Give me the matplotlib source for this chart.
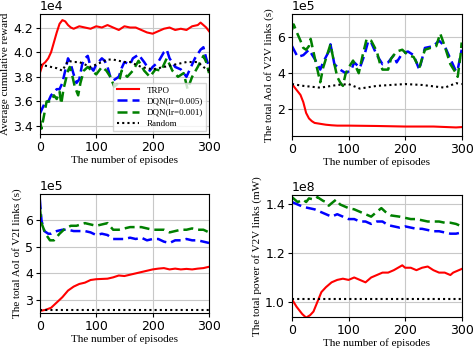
import matplotlib
matplotlib.use('Agg')
import matplotlib.pyplot as plt

# ---- panel 1: average cumulative reward (x1e4) ----
r_trpo_x = [0, 5, 10, 15, 20, 25, 30, 35, 40, 45, 50, 55, 60, 70, 80, 90, 100, 110, 120, 130, 140, 150,
            160, 170, 180, 190, 200, 210, 220, 230, 240, 250, 260, 270, 280, 285, 290, 295, 300]
r_trpo = [3.83, 3.9, 3.92, 3.95, 4.0, 4.08, 4.16, 4.23, 4.26, 4.25, 4.22, 4.2, 4.19, 4.21, 4.2, 4.19, 4.21,
          4.2, 4.22, 4.2, 4.18, 4.21, 4.2, 4.2, 4.18, 4.16, 4.15, 4.17, 4.19, 4.2, 4.18, 4.19, 4.18, 4.21,
          4.22, 4.24, 4.22, 4.2, 4.17]
r_rand_x = [0, 10, 20, 30, 40, 50, 60, 70, 80, 90, 100, 110, 120, 130, 140, 150, 160, 170, 180, 190,
            200, 210, 220, 230, 240, 250, 260, 270, 280, 290, 300]
r_rand = [3.9, 3.89, 3.88, 3.87, 3.85, 3.93, 3.92, 3.92, 3.9, 3.88, 3.9, 3.92, 3.94, 3.94, 3.93, 3.92,
          3.92, 3.9, 3.88, 3.87, 3.86, 3.87, 3.88, 3.89, 3.9, 3.91, 3.92, 3.92, 3.92, 3.88, 3.85]
r_dqn1_x = [0, 5, 10, 15, 20, 30, 35, 40, 45, 50, 55, 60, 65, 70, 75, 80, 85, 90, 95, 100, 110, 115,
            120, 125, 130, 140, 145, 150, 160, 165, 175, 185, 195, 200, 210, 220, 225, 230, 240, 250,
            260, 265, 275, 285, 290, 295, 300]
r_dqn1 = [3.5, 3.55, 3.6, 3.6, 3.65, 3.7, 3.7, 3.75, 3.85, 3.95, 3.9, 3.82, 3.75, 3.78, 3.9, 3.95, 3.97,
          3.88, 3.85, 3.9, 3.95, 3.93, 3.88, 3.8, 3.77, 3.8, 3.87, 3.92, 3.9, 3.95, 3.98, 3.92, 3.85, 3.88,
          3.92, 4.0, 4.02, 3.95, 3.88, 3.86, 3.8, 3.85, 3.95, 4.02, 4.04, 3.95, 3.88]
r_dqn2_x = [0, 3, 8, 12, 20, 25, 30, 35, 38, 42, 50, 53, 58, 62, 68, 72, 78, 85, 92, 100, 110, 118,
            125, 132, 140, 145, 155, 165, 175, 185, 195, 205, 215, 225, 235, 245, 255, 262, 270, 280,
            290, 295, 300]
r_dqn2 = [3.45, 3.38, 3.5, 3.6, 3.6, 3.65, 3.62, 3.68, 3.58, 3.7, 3.85, 3.88, 3.8, 3.72, 3.65, 3.75, 3.85,
          3.88, 3.85, 3.82, 3.88, 3.85, 3.8, 3.72, 3.75, 3.85, 3.8, 3.85, 3.93, 3.85, 3.8, 3.86, 3.85, 3.95,
          3.85, 3.8, 3.83, 3.7, 3.8, 3.88, 3.97, 3.92, 3.83]

# ---- panel 2: total AoI of V2V links (x1e5) ----
v2v_trpo_x = [0, 5, 10, 15, 20, 25, 30, 35, 40, 50, 60, 70, 80, 100, 150, 200, 250, 290, 300]
v2v_trpo = [3.4, 3.2, 3.0, 2.8, 2.4, 1.8, 1.5, 1.35, 1.25, 1.2, 1.15, 1.12, 1.1, 1.1, 1.08, 1.05, 1.05,
            1.0, 1.02]
v2v_rand_x = [0, 20, 50, 80, 100, 120, 150, 200, 230, 270, 290, 300]
v2v_rand = [3.4, 3.3, 3.2, 3.35, 3.4, 3.15, 3.3, 3.4, 3.35, 3.2, 3.45, 3.4]
v2v_dqn1_x = [0, 5, 10, 20, 30, 40, 50, 55, 65, 68, 75, 85, 95, 105, 110, 120, 128, 135, 140, 150, 160,
              170, 180, 185, 195, 205, 215, 225, 235, 250, 260, 270, 280, 290, 293, 300]
v2v_dqn1 = [5.5, 5.2, 4.9, 5.0, 5.3, 4.8, 4.2, 4.6, 5.2, 5.6, 4.5, 4.2, 4.0, 4.2, 4.6, 4.3, 5.0, 5.8, 5.7,
            5.0, 4.5, 4.6, 5.0, 4.6, 5.1, 5.2, 5.0, 4.2, 5.4, 5.5, 5.8, 5.5, 4.8, 4.1, 4.2, 5.3]
v2v_dqn2_x = [0, 3, 8, 15, 20, 25, 30, 33, 42, 50, 55, 62, 68, 75, 80, 85, 90, 95, 100, 108, 118, 125,
              132, 140, 150, 155, 160, 170, 175, 185, 195, 205, 215, 225, 235, 245, 255, 262, 270, 280,
              290, 293, 298, 300]
v2v_dqn2 = [6.4, 6.7, 6.3, 5.8, 5.4, 5.3, 5.5, 5.9, 4.6, 3.5, 4.3, 5.0, 5.6, 4.5, 3.8, 3.5, 3.3, 4.0, 4.3,
            4.7, 4.0, 5.0, 5.9, 5.8, 5.2, 4.6, 4.2, 4.2, 4.8, 5.2, 5.3, 5.0, 4.9, 4.3, 5.3, 5.4, 5.5, 6.2,
            5.5, 4.5, 4.0, 3.8, 5.0, 5.7]

# ---- panel 3: total AoI of V2I links (x1e5) ----
v2i_x = [0, 10, 20, 30, 40, 50, 60, 70, 80, 90, 100, 110, 120, 130, 140, 150, 160, 170, 180, 190, 200,
         210, 220, 230, 240, 250, 260, 270, 280, 290, 300]
v2i_trpo = [2.58, 2.62, 2.7, 2.9, 3.1, 3.35, 3.5, 3.6, 3.65, 3.75, 3.78, 3.79, 3.8, 3.85, 3.92, 3.9, 3.95,
            4.0, 4.05, 4.1, 4.15, 4.18, 4.2, 4.15, 4.18, 4.15, 4.17, 4.15, 4.18, 4.2, 4.25]
v2i_rand = [2.6] * len(v2i_x)
v2i_dqn1_x = [0, 3, 8, 15, 20, 30, 40, 50, 60, 70, 80, 90, 100, 110, 120, 130, 140, 150, 160, 170, 180,
              190, 200, 210, 220, 230, 240, 250, 260, 270, 280, 290, 300]
v2i_dqn1 = [6.8, 6.0, 5.6, 5.5, 5.5, 5.6, 5.65, 5.65, 5.6, 5.6, 5.6, 5.55, 5.45, 5.5, 5.45, 5.3, 5.3, 5.3,
            5.35, 5.3, 5.35, 5.25, 5.3, 5.3, 5.2, 5.15, 5.25, 5.25, 5.3, 5.25, 5.25, 5.2, 5.15]
v2i_dqn2_x = [0, 3, 10, 18, 25, 35, 45, 55, 65, 80, 90, 100, 110, 120, 130, 140, 150, 160, 170, 180, 190,
              200, 210, 220, 230, 240, 250, 260, 270, 280, 290, 300]
v2i_dqn2 = [6.5, 5.9, 5.5, 5.25, 5.25, 5.5, 5.7, 5.8, 5.8, 5.9, 5.85, 5.8, 5.85, 5.9, 5.65, 5.65, 5.7,
            5.75, 5.75, 5.75, 5.7, 5.65, 5.65, 5.65, 5.55, 5.6, 5.65, 5.65, 5.7, 5.65, 5.65, 5.55]

# ---- panel 4: total power of V2V links (x1e8) ----
pw_trpo_x = [0, 8, 18, 25, 32, 38, 45, 52, 60, 70, 80, 90, 100, 110, 120, 130, 140, 150, 160, 170, 180,
             195, 200, 210, 220, 230, 240, 250, 260, 270, 280, 285, 295, 300]
pw_trpo = [1.01, 0.98, 0.95, 0.935, 0.945, 0.96, 1.0, 1.04, 1.06, 1.08, 1.09, 1.095, 1.09, 1.1, 1.09,
           1.08, 1.1, 1.11, 1.12, 1.12, 1.13, 1.15, 1.14, 1.14, 1.13, 1.14, 1.145, 1.13, 1.12, 1.12, 1.11,
           1.12, 1.13, 1.135]
pw_rand_x = [0, 300]
pw_rand = [1.01, 1.01]
pw_dqn1_x = [0, 10, 20, 30, 40, 50, 60, 70, 80, 90, 100, 110, 120, 130, 140, 150, 160, 170, 180, 190,
             200, 210, 220, 230, 240, 250, 260, 270, 280, 290, 300]
pw_dqn1 = [1.41, 1.4, 1.39, 1.385, 1.38, 1.37, 1.36, 1.35, 1.36, 1.35, 1.34, 1.34, 1.33, 1.33, 1.32, 1.33,
           1.33, 1.315, 1.31, 1.305, 1.31, 1.305, 1.3, 1.3, 1.295, 1.29, 1.29, 1.285, 1.28, 1.28, 1.285]
pw_dqn2_x = [0, 5, 10, 20, 25, 30, 40, 45, 55, 60, 65, 70, 78, 85, 95, 100, 110, 120, 130, 140, 150, 158,
             165, 175, 190, 200, 210, 220, 230, 240, 250, 260, 270, 280, 290, 300]
pw_dqn2 = [1.43, 1.42, 1.41, 1.42, 1.41, 1.425, 1.42, 1.43, 1.415, 1.41, 1.395, 1.405, 1.42, 1.4, 1.39,
           1.385, 1.38, 1.37, 1.36, 1.35, 1.37, 1.385, 1.37, 1.355, 1.35, 1.345, 1.34, 1.34, 1.335, 1.33,
           1.33, 1.33, 1.325, 1.325, 1.32, 1.31]

labels = ['TRPO', 'DQN(lr=0.005)', 'DQN(lr=0.001)', 'Random']

serif = ['Liberation Serif', 'DejaVu Serif']
lab_size = 8
tick_size = 9

fig = plt.figure(figsize=(4.74, 3.49), dpi=100)
ax1 = fig.add_axes([0.084, 0.616, 0.357, 0.344])
ax2 = fig.add_axes([0.616, 0.610, 0.358, 0.349])
ax3 = fig.add_axes([0.084, 0.103, 0.357, 0.341])
ax4 = fig.add_axes([0.616, 0.092, 0.358, 0.350])


def draw(ax, trpo, dqn1, dqn2, rand, scale):
    ax.plot(trpo[0], [v * scale for v in trpo[1]], color='red', lw=1.5, label=labels[0])
    ax.plot(dqn1[0], [v * scale for v in dqn1[1]], color='blue', lw=1.8, ls=(0, (4, 2)), label=labels[1])
    ax.plot(dqn2[0], [v * scale for v in dqn2[1]], color='green', lw=1.8, ls=(0, (4, 2)), label=labels[2])
    ax.plot(rand[0], [v * scale for v in rand[1]], color='black', lw=1.5, ls=(0, (1, 1.5)), label=labels[3])
    ax.set_xlim(0, 300)
    ax.set_xticks([0, 100, 200, 300])
    ax.grid(True, color='#c8c8c8', lw=0.8)
    ax.ticklabel_format(axis='y', style='sci', scilimits=(0, 0))
    ax.tick_params(labelsize=tick_size, length=3, pad=2)
    ax.yaxis.get_offset_text().set_fontsize(tick_size)
    ax.set_xlabel('The number of episodes', family=serif, fontsize=lab_size, labelpad=1)


draw(ax1, (r_trpo_x, r_trpo), (r_dqn1_x, r_dqn1), (r_dqn2_x, r_dqn2), (r_rand_x, r_rand), 1e4)
ax1.set_ylim(3.336e4, 4.31e4)
ax1.set_yticks([3.4e4, 3.6e4, 3.8e4, 4.0e4, 4.2e4])
ax1.set_ylabel('Average cumulative reward', family=serif, fontsize=lab_size, labelpad=2)
ax1.legend(loc='lower right', prop={'family': serif, 'size': 6.5}, handlelength=2.5,
           borderaxespad=0.3, labelspacing=0.3, fancybox=False)

draw(ax2, (v2v_trpo_x, v2v_trpo), (v2v_dqn1_x, v2v_dqn1), (v2v_dqn2_x, v2v_dqn2), (v2v_rand_x, v2v_rand), 1e5)
ax2.set_ylim(0.52e5, 7.26e5)
ax2.set_yticks([2e5, 4e5, 6e5])
ax2.set_ylabel('The total AoI of V2V links (s)', family=serif, fontsize=lab_size, labelpad=2)

draw(ax3, (v2i_x, v2i_trpo), (v2i_dqn1_x, v2i_dqn1), (v2i_dqn2_x, v2i_dqn2), (v2i_x, v2i_rand), 1e5)
ax3.set_ylim(2.5e5, 7.0e5)
ax3.set_yticks([3e5, 4e5, 5e5, 6e5])
ax3.set_ylabel('The total AoI of V2I links (s)', family=serif, fontsize=lab_size, labelpad=2)

draw(ax4, (pw_trpo_x, pw_trpo), (pw_dqn1_x, pw_dqn1), (pw_dqn2_x, pw_dqn2), (pw_rand_x, pw_rand), 1e8)
ax4.set_ylim(0.938e8, 1.44e8)
ax4.set_yticks([1.0e8, 1.2e8, 1.4e8])
ax4.set_ylabel('The total power of V2V links (mW)', family=serif, fontsize=lab_size, labelpad=2)

fig.savefig('out.png', dpi=100)
